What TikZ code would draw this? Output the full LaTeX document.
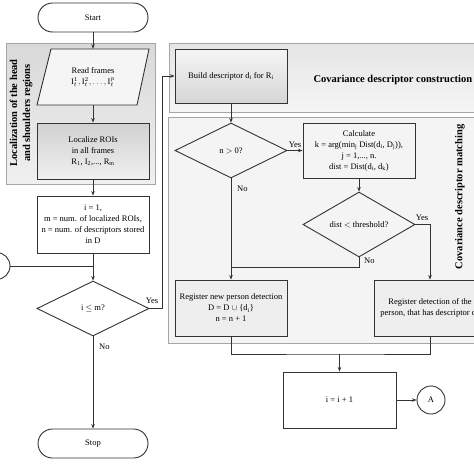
\documentclass[tikz,border=0pt]{standalone}
\usepackage{fontspec}
\setmainfont{Liberation Serif}
\usetikzlibrary{shapes.geometric,shapes.misc,arrows.meta,calc}
\begin{document}
\begin{tikzpicture}[x=1pt,y=-1pt,
  ln/.style={draw=black!80,line width=0.9pt},
  arr/.style={ln,-{Stealth[length=4.5pt,width=3.5pt]}},
  txt/.style={font=\fontsize{8.5}{11}\selectfont,align=center},
  box/.style={ln,txt,rectangle,minimum width=112pt,minimum height=56pt,inner sep=1pt},
  term/.style={ln,txt,rounded rectangle,minimum width=112pt,minimum height=29pt,inner sep=1pt},
  dia/.style={ln,txt,diamond,minimum width=112pt,minimum height=55pt,inner sep=0pt},
  grp/.style={draw=black!35,line width=0.8pt},
  lbl/.style={font=\fontsize{8.5}{10}\selectfont,inner sep=1pt},
  ttl/.style={font=\fontsize{10.5}{13}\selectfont\bfseries,align=center}
]
\useasboundingbox (0,0) rectangle (474,474);
\clip (0,0) rectangle (474,474);
\fill[white] (0,0) rectangle (474,474);

% group boxes
\draw[grp,top color=gray!30,bottom color=gray!12] (6,43) rectangle (155,184);
\draw[grp,top color=gray!20,bottom color=gray!8] (169,43) rectangle (490,112);
\draw[grp,fill=gray!9] (168,117) rectangle (490,343);

\node[ttl,rotate=90] (gl) at (21,113) {Localization of the head\\and shoulders regions};
\node[ttl,anchor=west] (gc) at (310,80) {Covariance descriptor construction};
\node[ttl,rotate=90] (gm) at (460,197) {Covariance descriptor matching};

% left column
\node[term,fill=white] (start) at (93,17.5) {Start};
\filldraw[ln,fill=gray!8] (51,49) -- (149,49) -- (137,105) -- (37,105) -- cycle;
\node[txt,minimum width=100pt,minimum height=56pt,inner sep=0pt] (read) at (93,77)
  {Read frames\\$\mathrm{I}_t^1, \mathrm{I}_t^2,\ldots, \mathrm{I}_t^p$};
\node[box,top color=gray!36,bottom color=gray!12] (roi) at (93,151)
  {Localize ROIs\\in all frames\\R\textsubscript{1}, I\textsubscript{2},..., R\textsubscript{m}};
\node[box,fill=white,minimum height=57pt] (init) at (93,224.5)
  {i = 1,\\m = num. of localized ROIs,\\n = num. of descriptors stored\\in D};
\node[dia,fill=white] (dec1) at (93,308.5) {i $\leq$ m?};
\node[term,fill=white] (stop) at (93,443.5) {Stop};
\node[ln,circle,minimum size=27pt,inner sep=0pt] (A2) at (-3.5,266) {};

% right part
\node[box,minimum height=54pt,top color=gray!8,bottom color=gray!32] (build) at (231,76)
  {Build descriptor d\textsubscript{i} for R\textsubscript{i}};
\node[dia,fill=gray!9] (n0) at (231,150.5) {n $>$ 0?};
\node[box,minimum height=55pt,fill=gray!9] (calc) at (359,150.5)
  {Calculate\\k = arg(min\textsubscript{j} Dist(d\textsubscript{i}, D\textsubscript{j})),\\j = 1,..., n.\\dist = Dist(d\textsubscript{i}, d\textsubscript{k})};
\node[dia,fill=gray!9] (dist) at (359,224.5) {dist $<$ threshold?};
\node[box,fill=gray!13] (regnew) at (231,308)
  {Register new person detection\\D = D $\cup$ \{d\textsubscript{i}\}\\n = n + 1};
\node[box,fill=gray!13] (regdet) at (430,308)
  {Register detection of the\\person, that has descriptor d\textsubscript{k}};
\node[box,fill=white,minimum width=113pt] (inc) at (339.5,400) {i = i + 1};
\node[ln,txt,circle,minimum size=28pt,inner sep=0pt,fill=white] (A) at (431,400) {A};

\coordinate (j1) at (231,267);
\coordinate (m) at (339.5,354);

% connectors left
\draw[arr] (start.south) -- (read.north);
\draw[arr] (read.south) -- (roi.north);
\draw[arr] (roi.south) -- (init.north);
\draw[arr] (init.south) -- (dec1.north);
\draw[ln] (A2.east) -- (init.south |- A2.east);
\draw[arr] (dec1.east) -- ++(13,0) |- (build.west);
\draw[arr] (dec1.south) -- (stop.north);
\node[lbl,anchor=south] (yes1) at (152,305) {Yes};
\node[lbl,anchor=west] (no1) at (98,347) {No};

% connectors right
\draw[arr] (build.south) -- (n0.north);
\draw[arr] (n0.east) -- (calc.west);
\node[lbl,anchor=south] (yes2) at (295,149) {Yes};
\draw[arr] (n0.south) -- (regnew.north);
\node[lbl,anchor=west] (no2) at (236,189) {No};
\draw[arr] (calc.south) -- (dist.north);
\draw[arr] (dist.east) -| (regdet.north);
\node[lbl,anchor=south] (yes3) at (422,222) {Yes};
\draw[ln] (dist.south) |- (j1);
\node[lbl,anchor=west] (no3) at (363,261) {No};
\draw[ln] (regnew.south) |- (m) -| (regdet.south);
\draw[arr] (m) -- (inc.north);
\draw[arr] (inc.east) -- (A.west);
\end{tikzpicture}
\end{document}
